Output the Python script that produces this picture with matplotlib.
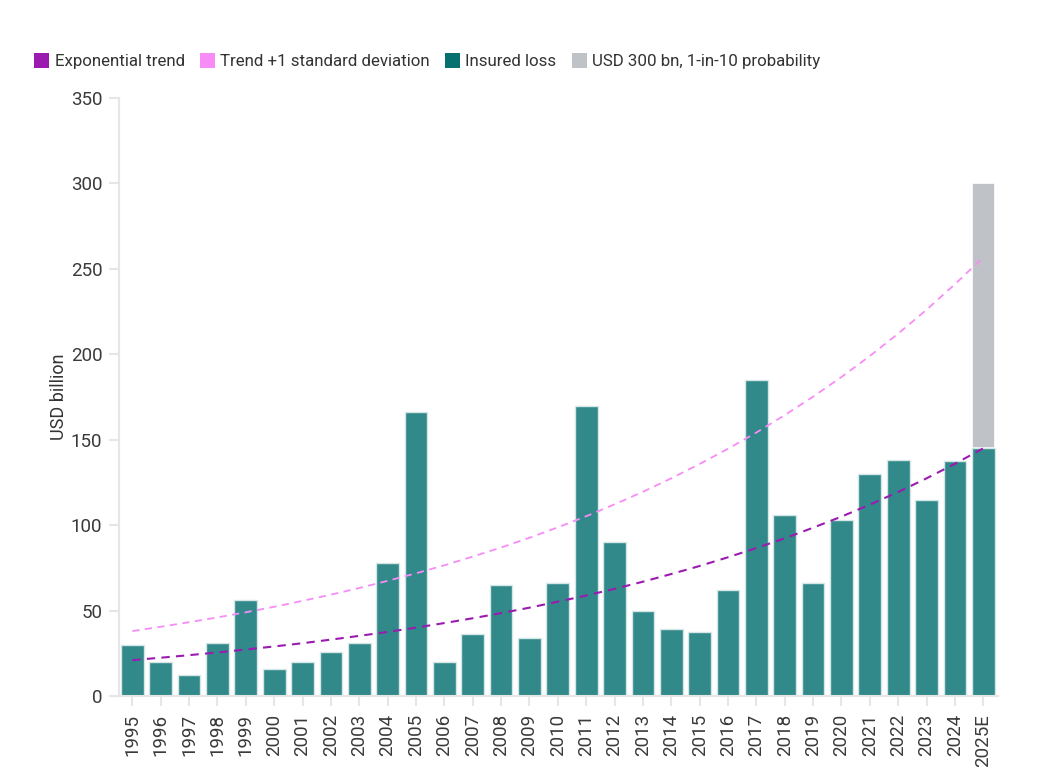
import matplotlib
matplotlib.use("Agg")
import matplotlib.pyplot as plt
from matplotlib.patches import Patch

plt.rcParams['font.family'] = ['Roboto', 'DejaVu Sans']

years = ['1995', '1996', '1997', '1998', '1999', '2000', '2001', '2002', '2003', '2004',
         '2005', '2006', '2007', '2008', '2009', '2010', '2011', '2012', '2013', '2014',
         '2015', '2016', '2017', '2018', '2019', '2020', '2021', '2022', '2023', '2024', '2025E']
insured_loss = [30, 20, 12, 31, 56, 16, 20, 26, 31, 78,
                166, 20, 36, 65, 34, 66, 170, 90, 50, 39,
                37.5, 62, 185, 106, 66, 103, 130, 138, 115, 137.5, 145]
probability_top = [0] * 30 + [300]
exp_trend = [21, 22.4, 23.9, 25.5, 27.2, 29, 30.9, 33, 35.2, 37.5,
             40, 42.7, 45.5, 48.5, 51.7, 55.2, 58.8, 62.7, 66.9, 71.4,
             76.1, 81.2, 86.6, 92.3, 98.5, 105, 112, 119.4, 127.4, 135.9, 145]
trend_plus_sd = [38, 40.5, 43.2, 46, 49, 52.2, 55.7, 59.3, 63.2, 67.4,
                 71.8, 76.5, 81.6, 86.9, 92.6, 98.7, 105.2, 112.2, 119.5, 127.4,
                 135.8, 144.7, 154.2, 164.4, 175.2, 186.7, 199, 212.1, 226.1, 241, 256.8]

teal = '#31898a'
gray = '#bfc2c6'
purple = '#9b1bb0'
pink = '#f78cf7'
legend_teal = '#08706f'

fig = plt.figure(figsize=(10.55, 7.78), dpi=100)
ax = fig.add_axes([0.1128, 0.1054, 0.8332, 0.7686])

x = list(range(len(years)))
gray_heights = [max(t - v, 0) if t > 0 else 0 for t, v in zip(probability_top, insured_loss)]
ax.bar(x, gray_heights, bottom=insured_loss, width=0.8, color=gray,
       edgecolor='white', linewidth=1.2, zorder=2)
ax.bar(x, insured_loss, width=0.8, color=teal, edgecolor='#d5e6e6',
       linewidth=1.0, zorder=2)

ax.plot(x, trend_plus_sd, color=pink, linestyle=(0, (4, 3)), linewidth=1.3, zorder=3)
ax.plot(x, exp_trend, color=purple, linestyle=(0, (4, 3)), linewidth=1.5, zorder=3)

ax.set_xlim(-0.47, 30.52)
ax.set_ylim(0, 350)
ax.set_yticks(range(0, 351, 50))
ax.set_xticks(x)
ax.set_xticklabels(years, rotation=90)

for s in ['top', 'right']:
    ax.spines[s].set_visible(False)
for s in ['left', 'bottom']:
    ax.spines[s].set_color('#e6e6e6')
    ax.spines[s].set_linewidth(1.5)
ax.tick_params(axis='both', colors='#e6e6e6', labelcolor='#3a3a3a', labelsize=13.5,
               length=7, width=1.5)
ax.tick_params(axis='y', pad=5)
ax.tick_params(axis='x', pad=6)

ax.set_ylabel('USD billion', fontsize=13, color='#333333', labelpad=2)

handles = [Patch(facecolor=purple, edgecolor='none', label='Exponential trend'),
           Patch(facecolor=pink, edgecolor='none', label='Trend +1 standard deviation'),
           Patch(facecolor=legend_teal, edgecolor='none', label='Insured loss'),
           Patch(facecolor=gray, edgecolor='none', label='USD 300 bn, 1-in-10 probability')]
leg = fig.legend(handles=handles, loc='upper left', bbox_to_anchor=(0.026, 0.94), ncol=4,
                 frameon=False, fontsize=12.2, handlelength=0.9, handleheight=0.9,
                 handletextpad=0.3, columnspacing=0.9, borderaxespad=0)
for t in leg.get_texts():
    t.set_color('#333333')

fig.savefig('out.png', dpi=100)
